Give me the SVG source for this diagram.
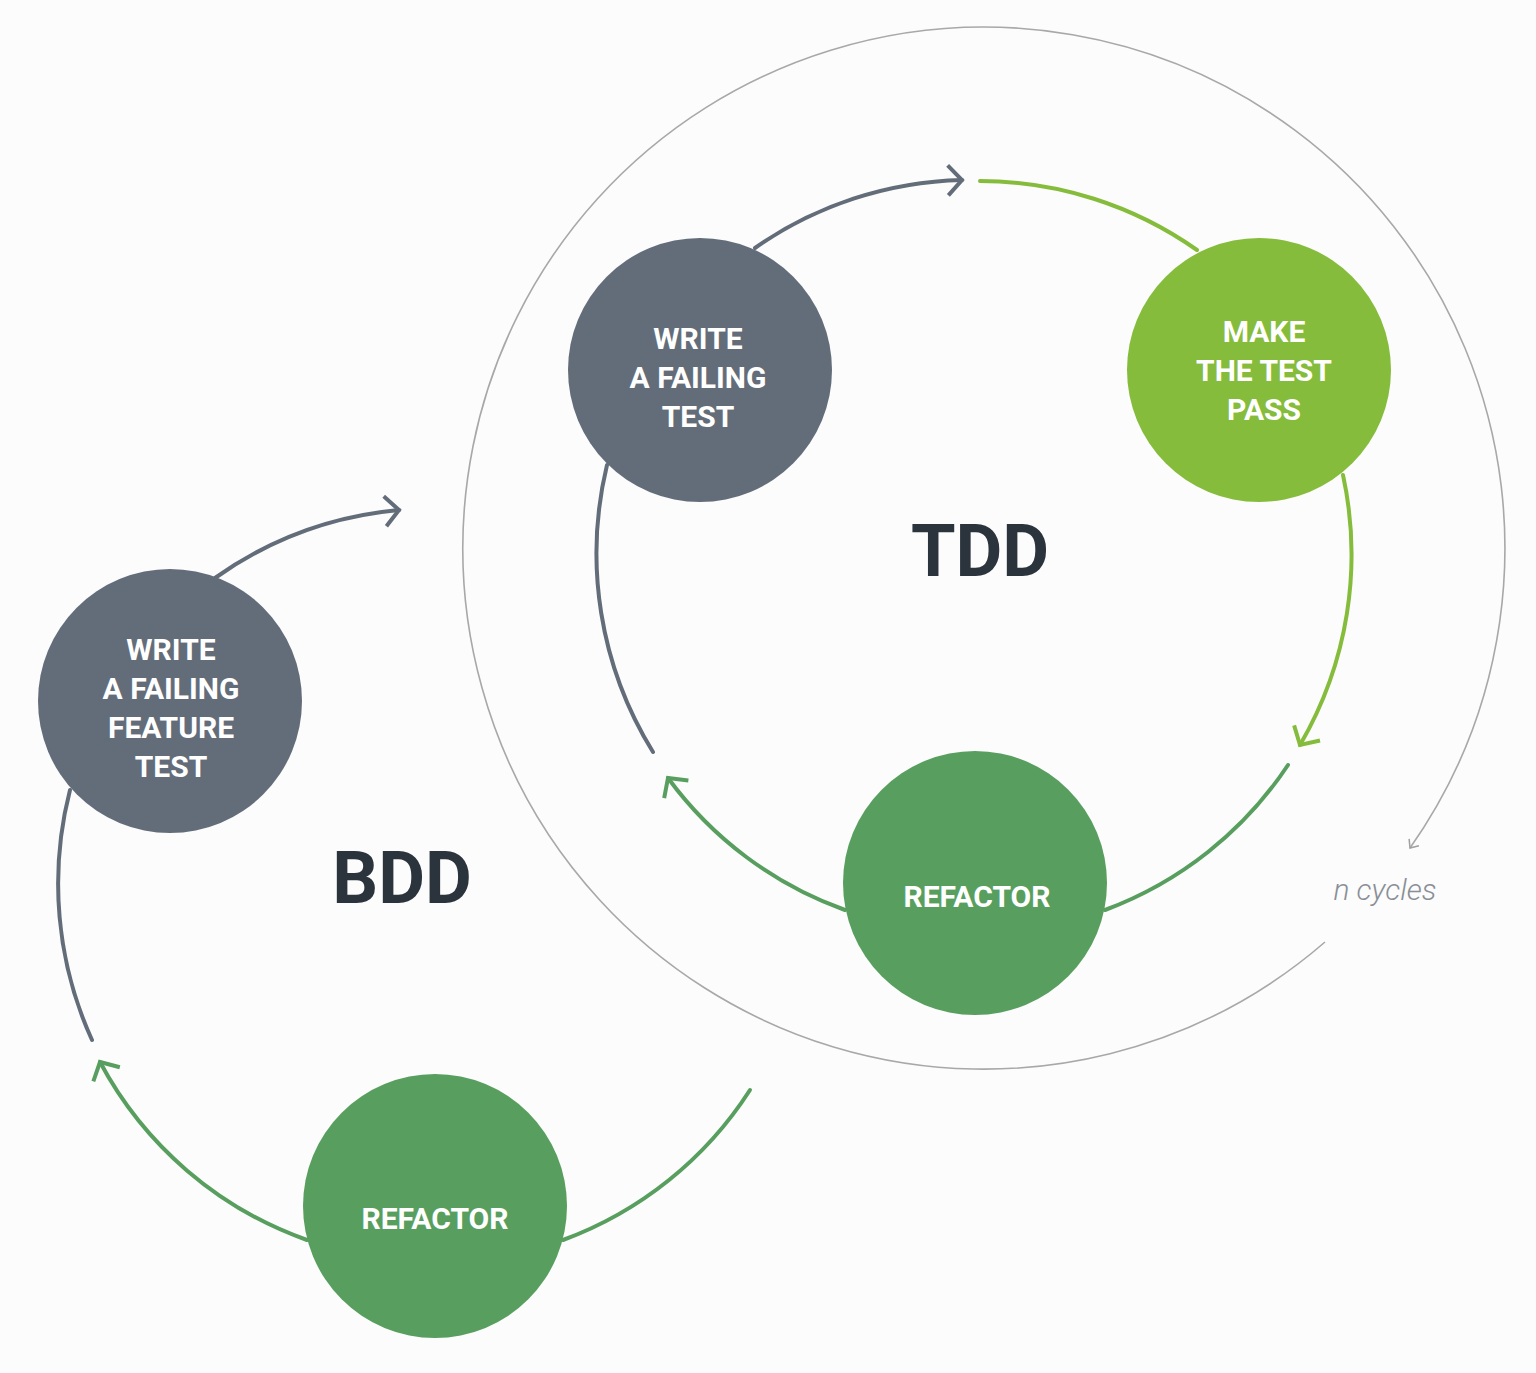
<svg xmlns="http://www.w3.org/2000/svg" width="1536" height="1373" viewBox="0 0 1536 1373">
<style>
.lbl{font-family:Roboto,"Liberation Sans",sans-serif;font-weight:700;font-size:30px;fill:#fff;text-anchor:middle}
.big{font-family:Roboto,"Liberation Sans",sans-serif;font-weight:700;font-size:72px;fill:#2b333d;text-anchor:middle}
.c{fill:none;stroke-width:4;stroke-linecap:round}
.g{stroke:#636d7a}.lg{stroke:#86bc3b}.dg{stroke:#589f5f}
</style>
<defs>
<marker id="ag" markerUnits="userSpaceOnUse" markerWidth="40" markerHeight="40" viewBox="-20 -20 40 40" refX="0" refY="0" orient="auto"><path d="M-14,-15 L0,0 L-14,15" fill="none" stroke="#636d7a" stroke-width="4"/></marker>
<marker id="alg" markerUnits="userSpaceOnUse" markerWidth="40" markerHeight="40" viewBox="-20 -20 40 40" refX="0" refY="0" orient="auto"><path d="M-14,-15 L0,0 L-14,15" fill="none" stroke="#86bc3b" stroke-width="4"/></marker>
<marker id="adg" markerUnits="userSpaceOnUse" markerWidth="40" markerHeight="40" viewBox="-20 -20 40 40" refX="0" refY="0" orient="auto"><path d="M-14,-15 L0,0 L-14,15" fill="none" stroke="#589f5f" stroke-width="4"/></marker>
<marker id="ao" markerUnits="userSpaceOnUse" markerWidth="20" markerHeight="20" viewBox="-10 -10 20 20" refX="0" refY="0" orient="auto"><path d="M-7,-6 L0,0 L-7,6" fill="none" stroke="#a0a0a0" stroke-width="1.5"/></marker>
</defs>
<rect width="1536" height="1373" fill="#fcfcfc"/>
<g id="connectors">
<path d="M1325,942 A521,521 0 1 1 1410,848" fill="none" stroke="#a8a8a8" stroke-width="1.6" marker-end="url(#ao)"/>
<path class="c g" d="M755,248 A377,377 0 0 1 962,180" marker-end="url(#ag)"/>
<path class="c lg" d="M980,181 A377,377 0 0 1 1197,250"/>
<path class="c lg" d="M1343,475 A377,377 0 0 1 1300,745" marker-end="url(#alg)"/>
<path class="c dg" d="M1288,765 A377,377 0 0 1 1105,910"/>
<path class="c dg" d="M845,910 A377,377 0 0 1 668,778" marker-end="url(#adg)"/>
<path class="c g" d="M653,752 A377,377 0 0 1 607,465"/>
<path class="c g" d="M215,578 A377,377 0 0 1 399,510" marker-end="url(#ag)"/>
<path class="c g" d="M70,790 A377,377 0 0 0 92,1040"/>
<path class="c dg" d="M307,1240 A377,377 0 0 1 100,1062" marker-end="url(#adg)"/>
<path class="c dg" d="M563,1240 A377,377 0 0 0 750,1090"/>
</g>
<g id="tdd-write"><circle cx="700" cy="370" r="132" fill="#636d7a"/><text class="lbl" x="698" y="349">WRITE</text><text class="lbl" x="698" y="388">A FAILING</text><text class="lbl" x="698" y="427">TEST</text></g>
<g id="tdd-pass"><circle cx="1259" cy="370" r="132" fill="#86bc3b"/><text class="lbl" x="1264" y="342">MAKE</text><text class="lbl" x="1264" y="381">THE TEST</text><text class="lbl" x="1264" y="420">PASS</text></g>
<g id="tdd-refactor"><circle cx="975" cy="883" r="132" fill="#589f5f"/><text class="lbl" x="977" y="907">REFACTOR</text></g>
<g id="bdd-write"><circle cx="170" cy="701" r="132" fill="#636d7a"/><text class="lbl" x="171" y="660">WRITE</text><text class="lbl" x="171" y="699">A FAILING</text><text class="lbl" x="171" y="738">FEATURE</text><text class="lbl" x="171" y="777">TEST</text></g>
<g id="bdd-refactor"><circle cx="435" cy="1206" r="132" fill="#589f5f"/><text class="lbl" x="435" y="1229">REFACTOR</text></g>
<text class="big" x="980" y="576">TDD</text>
<text class="big" x="402" y="903">BDD</text>
<text x="1385" y="900" font-family="Roboto,'Liberation Sans',sans-serif" font-weight="300" font-style="italic" font-size="30" fill="#8a8f96" text-anchor="middle">n cycles</text>
</svg>
